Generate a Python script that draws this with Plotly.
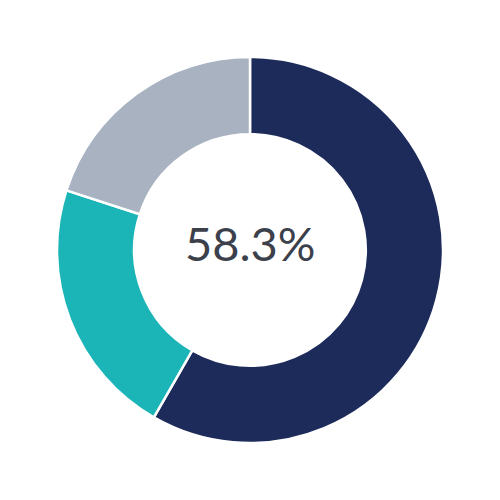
import plotly.graph_objects as go

labels = ["A", "B", "C"]
values = [58.3, 21.7, 20.0]
colors = ["#1c2b5a", "#1bb5b8", "#a8b2c1"]
center_text = "58.3%"

fig = go.Figure()
fig.add_trace(
    go.Pie(
        labels=labels,
        values=values,
        hole=0.6,
        sort=False,
        direction="clockwise",
        rotation=0,
        textinfo="none",
        hoverinfo="label+percent",
        marker=dict(colors=colors, line=dict(color="white", width=2.5)),
    )
)
fig.add_annotation(
    text=center_text,
    x=0.5,
    y=0.5,
    xref="paper",
    yref="paper",
    yshift=7,
    showarrow=False,
    font=dict(family="Lato", size=47, color="#3b404b"),
)
# page body adds an 8px offset, so the margins are shifted to keep the ring centred
fig.update_layout(
    width=500,
    height=500,
    autosize=False,
    margin=dict(l=49, r=65, t=49, b=65),
    showlegend=False,
    paper_bgcolor="white",
    plot_bgcolor="white",
)
fig.write_html("out.html")
